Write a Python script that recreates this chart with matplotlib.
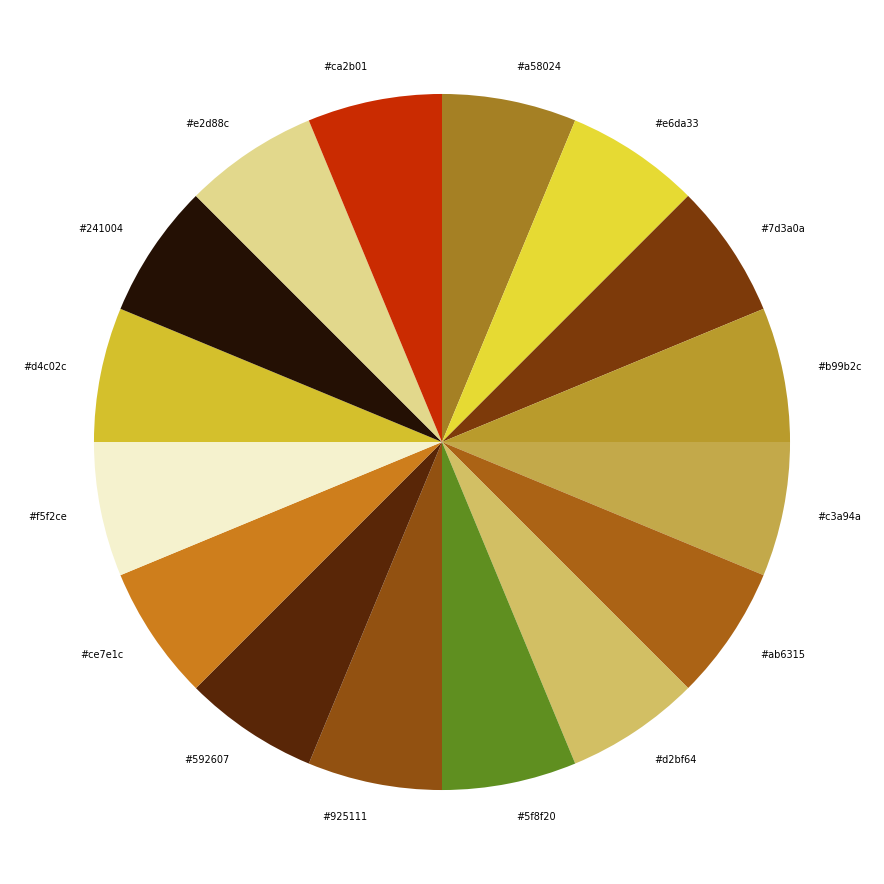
import matplotlib
matplotlib.use("Agg")
import matplotlib.pyplot as plt

labels = ["#a58024", "#e6da33", "#7d3a0a", "#b99b2c", "#c3a94a", "#ab6315",
          "#d2bf64", "#5f8f20", "#925111", "#592607", "#ce7e1c", "#f5f2ce",
          "#d4c02c", "#241004", "#e2d88c", "#ca2b01"]
sizes = [1] * len(labels)

fig = plt.figure(figsize=(8.84, 8.84), dpi=100)
ax = fig.add_axes([0, 0, 1, 1])
ax.pie(sizes, labels=labels, colors=labels, startangle=90, counterclock=False,
       labeldistance=1.1, textprops={"fontsize": 7})
ax.set_aspect("equal")
ax.set_xlim(-1.27, 1.27)
ax.set_ylim(-1.27, 1.27)
fig.savefig("out.png", dpi=100)
